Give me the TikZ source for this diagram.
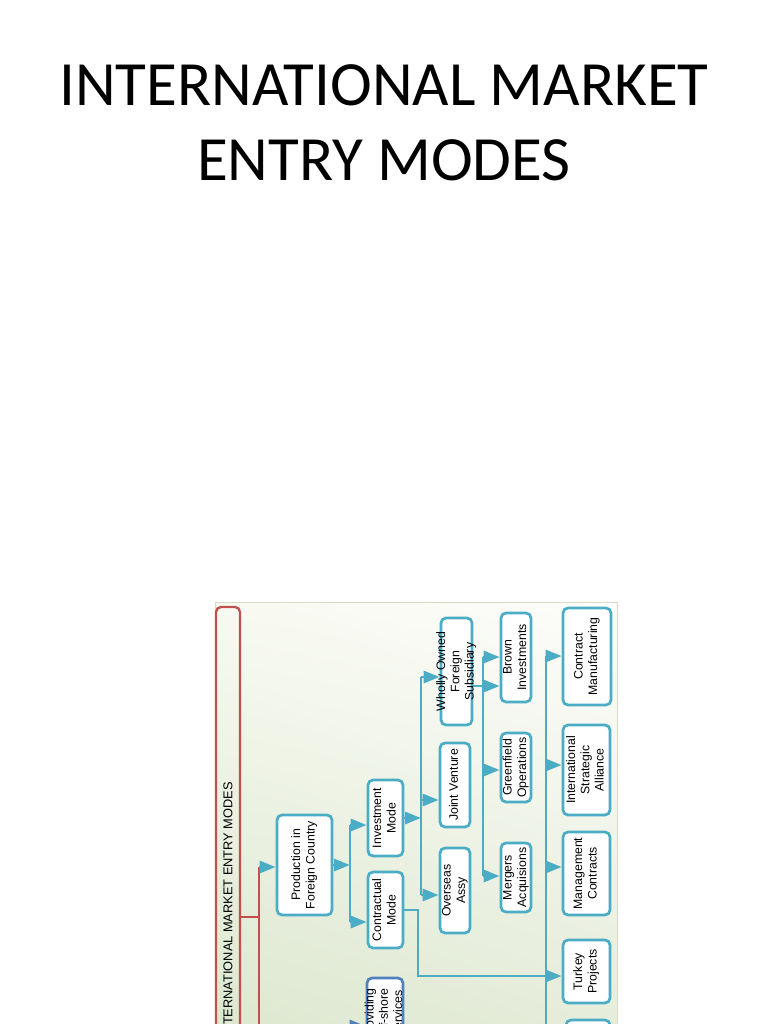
\documentclass[tikz,border=0pt]{standalone}
\usepackage{fontspec}
\usepackage{graphicx}
\usetikzlibrary{arrows.meta, shadings}

\newfontfamily\titlefont{Carlito}
\newfontfamily\boxfont{Liberation Sans}

\definecolor{aqua}{HTML}{4BACC6}
\definecolor{rootred}{HTML}{C0504D}
\definecolor{provblue}{HTML}{4F81BD}
\definecolor{framegray}{HTML}{D5DCC3}
\definecolor{bgtl}{HTML}{F8FAF1}
\definecolor{bgtr}{HTML}{FDFDFB}
\definecolor{bgbl}{HTML}{DDE8D0}
\definecolor{bgbr}{HTML}{E6EDDB}

% upright text turned to read bottom-to-top
\newcommand{\boxtext}[1]{\makebox[0pt]{\rotatebox{90}{\begin{tabular}{@{}c@{}}#1\end{tabular}}}}

\begin{document}
\begin{tikzpicture}[x=1pt, y=-1pt, >={Triangle[length=16pt, width=12pt]},
	entry/.style={draw=aqua, line width=2.7pt, rounded corners=5pt, fill=white,
		inner sep=0pt, font=\boxfont\fontsize{12.3}{14.3}\selectfont},
	rootbox/.style={draw=rootred, line width=2.3pt, rounded corners=5pt,
		inner sep=0pt, font=\boxfont\fontsize{12.8}{15}\selectfont},
	titletext/.style={font=\titlefont\fontsize{63}{75}\selectfont, anchor=base},
	bus/.style={draw=aqua, line width=2.9pt},
	link/.style={bus, ->},
	redline/.style={draw=rootred, line width=2.3pt},
	provlink/.style={draw=provblue, line width=2.9pt, ->}]
	
	% --- 1. PAGE ---
	\useasboundingbox (0,0) rectangle (768,1024);
	\clip (0,0) rectangle (768,1024);
	
	\node (title1) [titletext] at (384,106) {INTERNATIONAL MARKET};
	\node (title2) [titletext] at (384,181) {ENTRY MODES};
	
	% Diagram backdrop (cut off by the page edge)
	\shade[upper left=bgtl, upper right=bgtr, lower left=bgbl, lower right=bgbr]
		(215,602) rectangle (617,1024);
	\draw[framegray, line width=1pt] (215,602) rectangle (617,1030);
	
	% --- 2. BOXES ---
	\node (root) [rootbox, minimum width=24pt, minimum height=606pt] at (228,910)
		{\rotatebox{90}{INTERNATIONAL MARKET ENTRY MODES}};
	
	\node (prod) [entry, minimum width=55pt, minimum height=100pt] at (304.5,865) {\boxtext{Production in\\Foreign Country}};
	\node (inv) [entry, minimum width=35pt, minimum height=76pt] at (385.5,818) {\boxtext{Investment\\Mode}};
	\node (contr) [entry, minimum width=35pt, minimum height=76pt] at (385.5,910) {\boxtext{Contractual\\Mode}};
	\node (prov) [entry, draw=provblue, minimum width=36pt, minimum height=72pt] at (385,1014) {\boxtext{Providing\\Off-shore\\Services}};
	
	\node (wholly) [entry, minimum width=31pt, minimum height=107pt] at (456.5,671.5) {\boxtext{Wholly Owned\\Foreign\\Subsidiary}};
	\node (joint) [entry, minimum width=30pt, minimum height=84pt] at (455,785) {\boxtext{Joint Venture}};
	\node (overseas) [entry, minimum width=30pt, minimum height=85pt] at (455,890.5) {\boxtext{Overseas\\Assy}};
	
	\node (brown) [entry, minimum width=30pt, minimum height=89pt] at (516,657.5) {\boxtext{Brown\\Investments}};
	\node (green) [entry, minimum width=30pt, minimum height=69pt] at (516,767.5) {\boxtext{Greenfield\\Operations}};
	\node (merger) [entry, minimum width=30pt, minimum height=69pt] at (516,877.5) {\boxtext{Mergers\\Acquisions}};
	
	\node (cm) [entry, minimum width=48pt, minimum height=97pt] at (587,656.5) {\boxtext{Contract\\Manufacturing}};
	\node (isa) [entry, minimum width=47pt, minimum height=90pt] at (586.5,770) {\boxtext{International\\Strategic\\Alliance}};
	\node (mc) [entry, minimum width=47pt, minimum height=83pt] at (586.5,873.5) {\boxtext{Management\\Contracts}};
	\node (turkey) [entry, minimum width=47pt, minimum height=63pt] at (586.5,971.5) {\boxtext{Turkey\\Projects}};
	\node (lastbox) [entry, minimum width=44pt, minimum height=80pt] at (588,1060) {};
	
	% --- 3. CONNECTORS ---
	% Root branch (red)
	\coordinate (rtop) at (259,867);
	\coordinate (rbot) at (259,1100);
	\draw[redline] (root.east |- 0,917) -- (rtop |- 0,917);
	\draw[redline] (rtop) -- (rbot);
	\draw[link] (rtop) -- (rtop -| prod.west);
	
	% Production -> modes
	\coordinate (b1t) at (350,825);
	\coordinate (b1b) at (350,922);
	\draw[link] (prod.east) -- (prod.east -| b1t);
	\draw[bus] (b1t) -- (b1b);
	\draw[link] (b1t) -- (b1t -| inv.west);
	\draw[link] (b1b) -- (b1b -| contr.west);
	
	% Investment mode -> forms
	\coordinate (b2t) at (421,677);
	\coordinate (b2m) at (421,800);
	\coordinate (b2b) at (421,895);
	\draw[link] (inv.east) -- (inv.east -| b2t);
	\draw[bus] (b2t) -- (b2b);
	\draw[link] (b2t) -- (b2t -| wholly.west);
	\draw[link] (b2m) -- (b2m -| joint.west);
	\draw[link] (b2b) -- (b2b -| overseas.west);
	
	% Wholly owned -> kinds
	\coordinate (b3t) at (483,657);
	\coordinate (b3m) at (483,770);
	\coordinate (b3b) at (483,876);
	\draw[link] ([yshift=-14.5pt]wholly.east) -- ([yshift=-14.5pt]wholly.east -| brown.west);
	\draw[bus] (b3t) -- (b3b);
	\draw[link] (b3t) -- (b3t -| brown.west);
	\draw[link] (b3m) -- (b3m -| green.west);
	\draw[link] (b3b) -- (b3b -| merger.west);
	
	% Contractual mode -> contracts
	\coordinate (c1) at (418,976);
	\coordinate (b4t) at (546,656);
	\coordinate (b4b) at (546,1100);
	\draw[bus] (contr.east) -| (c1) -- (c1 -| b4t);
	\draw[bus] (b4t) -- (b4b);
	\draw[link] (b4t) -- (b4t -| cm.west);
	\draw[link] (546,765) -- (isa.west |- 546,765);
	\draw[link] (546,867) -- (mc.west |- 546,867);
	\draw[link] (c1 -| b4t) -- (c1 -| turkey.west);
	\draw[link] (546,1045) -- (lastbox.west |- 546,1045);
	
	% Off-shore services (dark blue)
	\coordinate (pv) at (348,1026);
	\draw[provlink] (pv) -- (pv -| prov.west);
	
\end{tikzpicture}
\end{document}
